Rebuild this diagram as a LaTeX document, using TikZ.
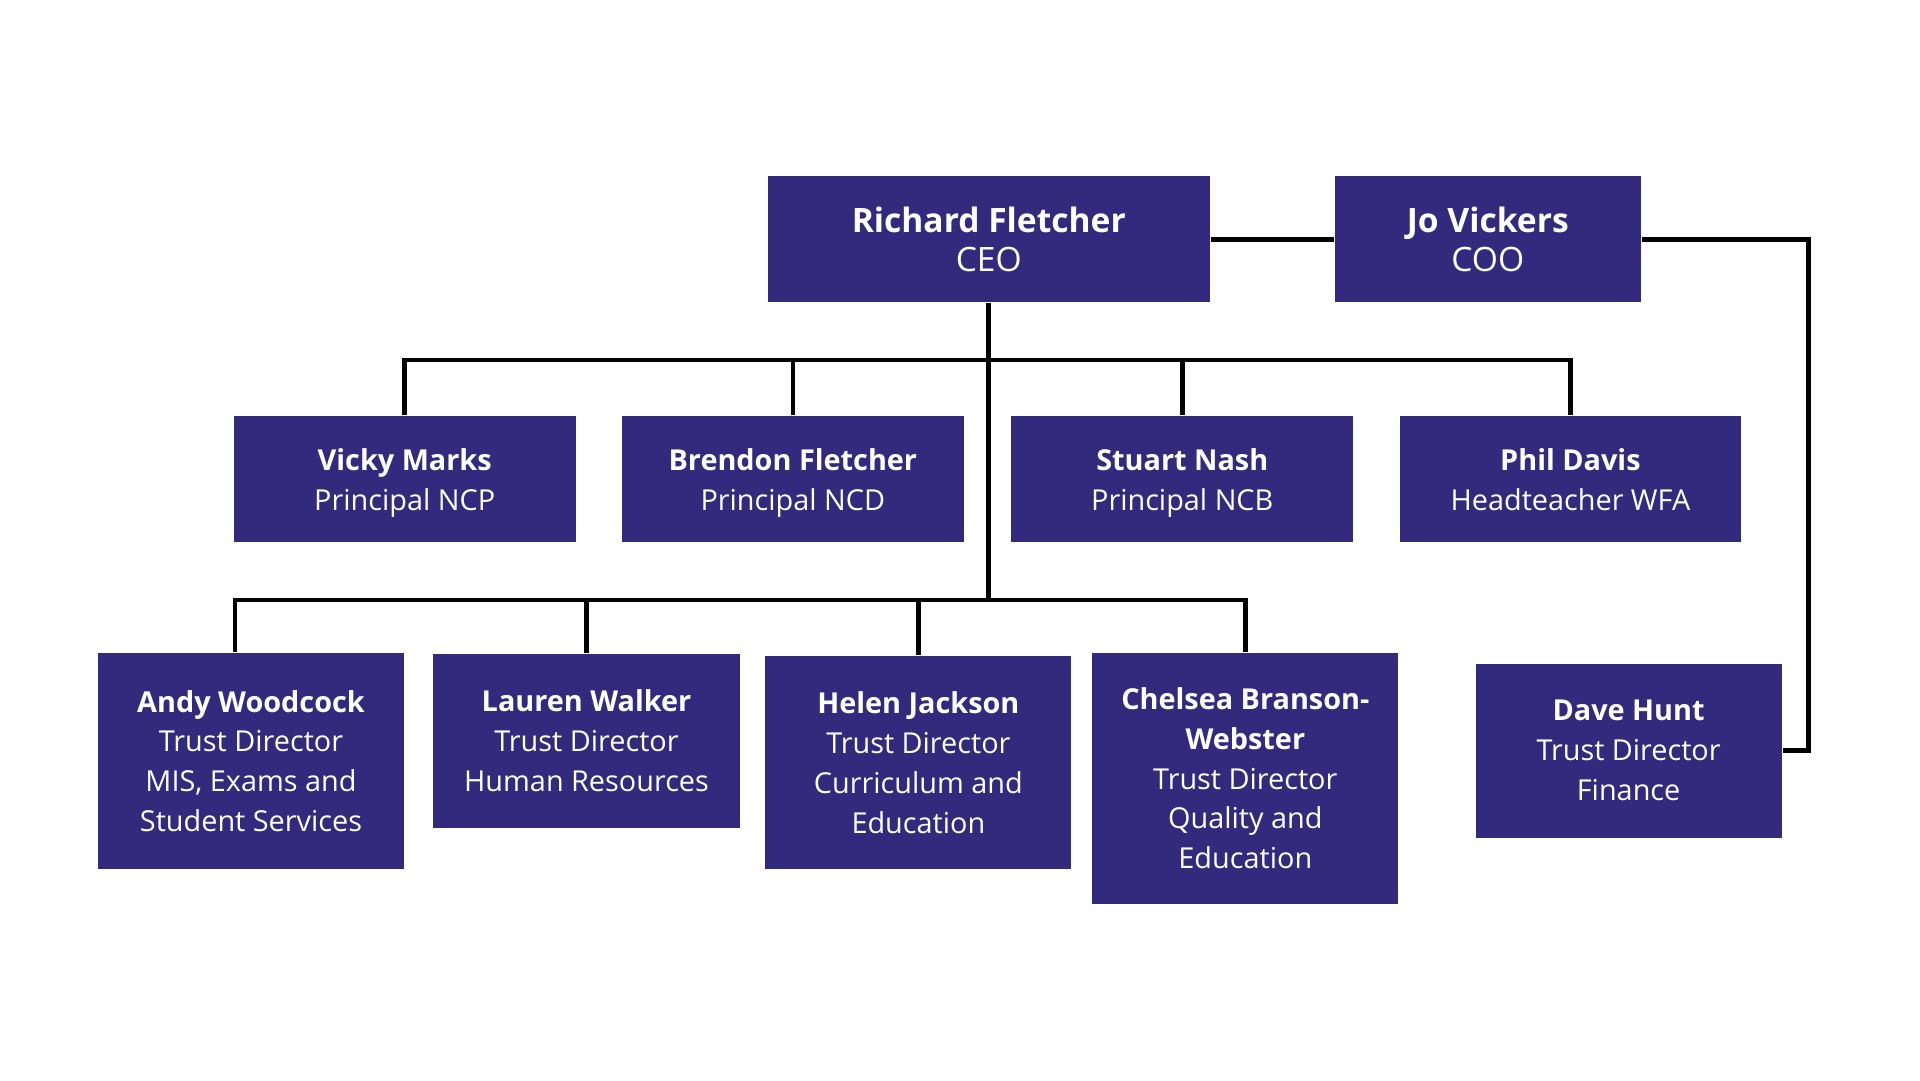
\documentclass[tikz,border=0pt]{standalone}
\usepackage{fontspec}
\setmainfont{Open Sans}
\usepackage{xcolor}
\usepackage{tikz}
\definecolor{trustpurple}{HTML}{332A7D}

\begin{document}
\begin{tikzpicture}[x=1cm,y=-1cm,
        box/.style={rectangle,fill=trustpurple,text=white,inner sep=0pt,
                    font=\fontsize{6.7}{9.25}\selectfont,
                    minimum width=2.5cm,minimum height=1.42cm,align=center},
        head/.style={box,minimum height=1.03cm,font=\fontsize{7.8}{9.1}\selectfont},
        principal/.style={box,minimum width=2.79cm,minimum height=1.03cm,text depth=0pt},
        link/.style={line width=1.1pt}]
      \useasboundingbox (0,0) rectangle (15.68,8.82);
      % top row
      \node[head,minimum width=3.61cm](ceo) at(8.075,1.955){\textbf{Richard Fletcher}\\CEO};
      \node[head](coo) at(12.15,1.955){\textbf{Jo Vickers}\\COO};
      % principals
      \node[principal](vm) at(3.305,3.915){\textbf{Vicky Marks}\\Principal NCP};
      \node[principal](bf) at(6.475,3.915){\textbf{Brendon Fletcher}\\Principal NCD};
      \node[principal](sn) at(9.655,3.915){\textbf{Stuart Nash}\\Principal NCB};
      \node[principal](pd) at(12.825,3.915){\textbf{Phil Davis}\\Headteacher WFA};
      % trust directors
      \node[box,minimum height=1.77cm](aw) at(2.05,6.215){\textbf{Andy Woodcock}\\Trust Director\\MIS, Exams and\\Student Services};
      \node[box](lw) at(4.79,6.05){\textbf{Lauren Walker}\\Trust Director\\Human Resources};
      \node[box,minimum height=1.74cm](hj) at(7.50,6.23){\textbf{Helen Jackson}\\Trust Director\\Curriculum and\\Education};
      \node[box,minimum height=2.05cm](cb) at(10.17,6.355){\textbf{Chelsea Branson-}\\\textbf{Webster}\\Trust Director\\Quality and\\Education};
      \node[box](dh) at(13.30,6.13){\textbf{Dave Hunt}\\Trust Director\\Finance};
      % bus points
      \coordinate (bustwo) at(8.05,2.94);
      \coordinate (busthree) at(8.05,4.90);
      \coordinate (cooturn) at(14.77,6.13);
      % lines
      \draw[link](ceo.east)--(coo.west);
      \draw[link](coo.east)-|(cooturn)--(dh.east);
      \draw[link](ceo.south)--(ceo.south|-busthree);
      \draw[link](vm.north)|-(bustwo)-|(pd.north);
      \draw[link](bf.north)--(bf.north|-bustwo);
      \draw[link](sn.north)--(sn.north|-bustwo);
      \draw[link]([xshift=-0.13cm]aw.north)|-(busthree)-|(cb.north);
      \draw[link](lw.north)--(lw.north|-busthree);
      \draw[link](hj.north)--(hj.north|-busthree);
    \end{tikzpicture}
\end{document}
